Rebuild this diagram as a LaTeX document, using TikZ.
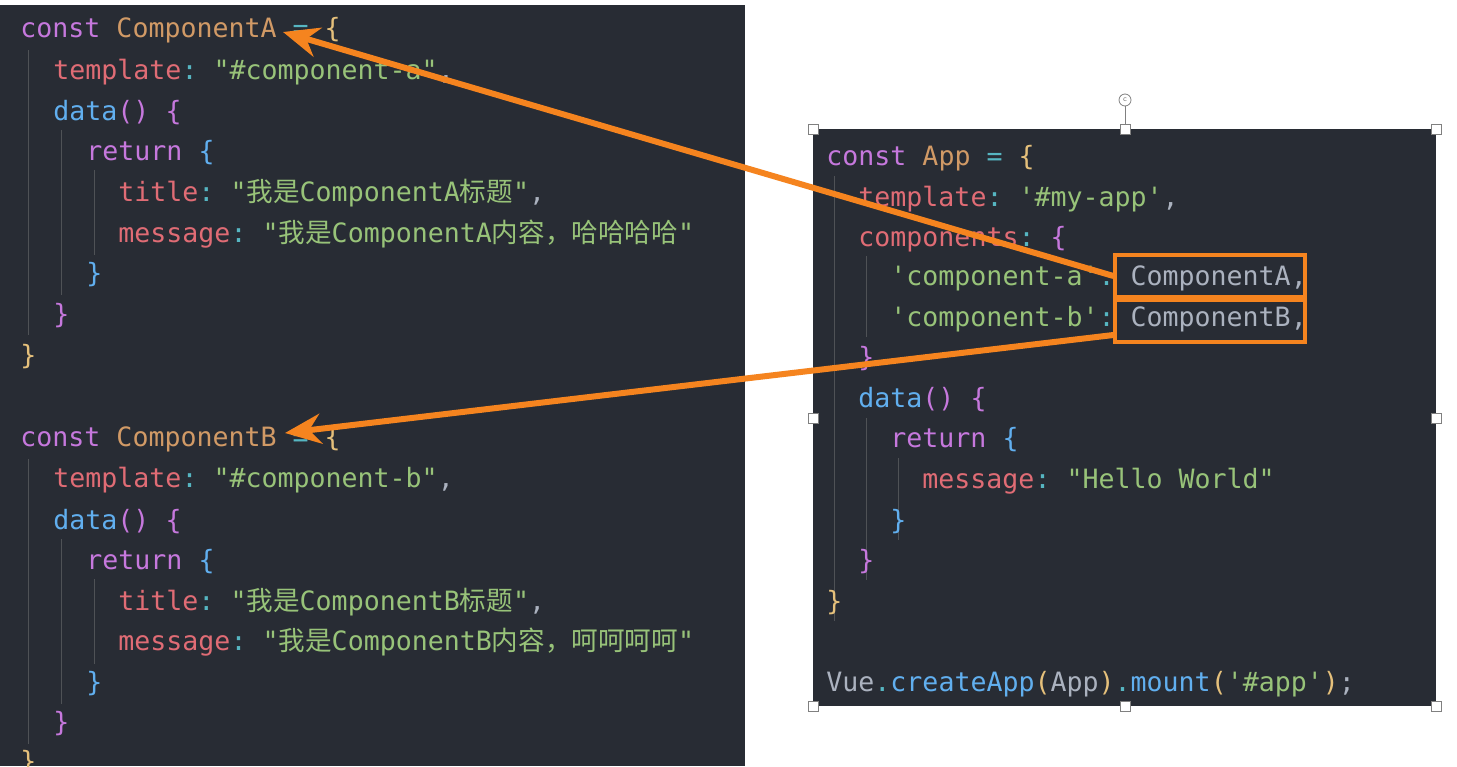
\documentclass[tikz,border=0pt]{standalone}
\usepackage{fontspec}
\setmonofont{DejaVu Sans Mono}
\newfontfamily\cjk{Noto Sans CJK SC}
\usetikzlibrary{arrows.meta}
\definecolor{bg}{HTML}{282C34}
\definecolor{ckw}{HTML}{C678DD}
\definecolor{cnm}{HTML}{D19A66}
\definecolor{cpr}{HTML}{E06C75}
\definecolor{cst}{HTML}{98C379}
\definecolor{cfn}{HTML}{61AFEF}
\definecolor{cpc}{HTML}{56B6C2}
\definecolor{cyb}{HTML}{E5C07B}
\definecolor{cdf}{HTML}{ABB2BF}
\definecolor{arr}{HTML}{F5841F}
\newcommand\kw[1]{\textcolor{ckw}{#1}}
\newcommand\nm[1]{\textcolor{cnm}{#1}}
\newcommand\pr[1]{\textcolor{cpr}{#1}}
\newcommand\st[1]{\textcolor{cst}{#1}}
\newcommand\fn[1]{\textcolor{cfn}{#1}}
\newcommand\pc[1]{\textcolor{cpc}{#1}}
\newcommand\yb[1]{\textcolor{cyb}{#1}}
\newcommand\df[1]{\textcolor{cdf}{#1}}
\tikzset{code/.style={anchor=base west,inner sep=0pt,font=\ttfamily\fontsize{13.3}{16}\selectfont,text=cdf},
 hdl/.style={draw=gray,fill=white,line width=0.4pt,minimum size=5pt,inner sep=0pt},
 hbox/.style={draw=arr,line width=1.6pt,inner sep=0pt},
 guide/.style={draw=gray!45!bg,line width=0.5pt},
 pointer/.style={arr,line width=3pt,-{Stealth[length=18pt,width=15pt]}}}
\begin{document}
\begin{tikzpicture}[x=0.5pt,y=-0.5pt]
\useasboundingbox (0,0) rectangle (1457,766);
\clip (0,0) rectangle (1457,766);
\fill[white] (0,0) rectangle (1457,766);
\fill[bg] (0,5) rectangle (745,766);
\fill[bg] (813,129) rectangle (1436,706);
% indent guides left
\foreach \yy in {0,409}{
 \draw[guide] (28,50+\yy) -- (28,335+\yy);
 \draw[guide] (61,130+\yy) -- (61,295+\yy);
 \draw[guide] (94,170+\yy) -- (94,255+\yy);
}
% indent guides right
\draw[guide] (834,176) -- (834,621);
\draw[guide] (866,256) -- (866,337);
\draw[guide] (866,418) -- (866,580);
\draw[guide] (898,458) -- (898,540);
% left code
\node[code] (a1) at (20,37) {\kw{const} \nm{ComponentA} \pc{=} \yb{\{}};
\node[code] (a2) at (53,79) {\pr{template}\pc{:} \st{"\#component-a"}\df{,}};
\node[code] (a3) at (53,120) {\fn{data}\kw{()} \kw{\{}};
\node[code] (a4) at (86,160) {\kw{return} \fn{\{}};
\node[code] (a5) at (118,201) {\pr{title}\pc{:} \st{"{\cjk 我是}ComponentA{\cjk 标题}"}\df{,}};
\node[code] (a6) at (118,242) {\pr{message}\pc{:} \st{"{\cjk 我是}ComponentA{\cjk 内容，哈哈哈哈}"}};
\node[code] (a7) at (86,282) {\fn{\}}};
\node[code] (a8) at (53,323) {\kw{\}}};
\node[code] (a9) at (20,364) {\yb{\}}};
\node[code] (b1) at (20,446) {\kw{const} \nm{ComponentB} \pc{=} \yb{\{}};
\node[code] (b2) at (53,487) {\pr{template}\pc{:} \st{"\#component-b"}\df{,}};
\node[code] (b3) at (53,529) {\fn{data}\kw{()} \kw{\{}};
\node[code] (b4) at (86,569) {\kw{return} \fn{\{}};
\node[code] (b5) at (118,610) {\pr{title}\pc{:} \st{"{\cjk 我是}ComponentB{\cjk 标题}"}\df{,}};
\node[code] (b6) at (118,650) {\pr{message}\pc{:} \st{"{\cjk 我是}ComponentB{\cjk 内容，呵呵呵呵}"}};
\node[code] (b7) at (86,691) {\fn{\}}};
\node[code] (b8) at (53,731) {\kw{\}}};
\node[code] (b9) at (20,770) {\yb{\}}};
% right code
\node[code] (r1) at (826,165) {\kw{const} \nm{App} \pc{=} \yb{\{}};
\node[code] (r2) at (858,206) {\pr{template}\pc{:} \st{'\#my-app'}\df{,}};
\node[code] (r3) at (858,246) {\pr{components}\pc{:} \kw{\{}};
\node[code] (r4) at (890,285) {\st{'component-a'}\pc{:} \df{ComponentA,}};
\node[code] (r5) at (890,326) {\st{'component-b'}\pc{:} \df{ComponentB,}};
\node[code] (r6) at (858,366) {\kw{\}}};
\node[code] (r7) at (858,407) {\fn{data}\kw{()} \kw{\{}};
\node[code] (r8) at (890,447) {\kw{return} \fn{\{}};
\node[code] (r9) at (922,488) {\pr{message}\pc{:} \st{"Hello World"}};
\node[code] (r10) at (890,529) {\fn{\}}};
\node[code] (r11) at (858,569) {\kw{\}}};
\node[code] (r12) at (826,610) {\yb{\}}};
\node[code] (r13) at (826,691) {\df{Vue}\pc{.}\fn{createApp}\yb{(}\df{App}\yb{)}\pc{.}\fn{mount}\yb{(}\st{'\#app'}\yb{)}\df{;}};
% highlight boxes
\node[hbox,minimum width=95pt,minimum height=21pt] (boxA) at (1210,276) {};
\node[hbox,minimum width=95pt,minimum height=21pt] (boxB) at (1210,321) {};
% selection handles
\foreach \p/\q in {813/129,1125/129,1436/129,813/418,1436/418,813/706,1125/706,1436/706}
 \node[hdl] at (\p,\q) {};
\node[draw=gray,circle,minimum size=6pt,inner sep=0pt,font=\sffamily\fontsize{4}{4}\selectfont,text=gray] (rot) at (1125,100) {c};
\draw[gray,line width=0.4pt] (rot) -- (1125,124);
% arrows
\coordinate (tipA) at (283,32);
\coordinate (tipB) at (285,433);
\draw[pointer] (boxA.west) -- (tipA);
\draw[pointer] ([yshift=-7pt]boxB.west) -- (tipB);
\end{tikzpicture}
\end{document}
